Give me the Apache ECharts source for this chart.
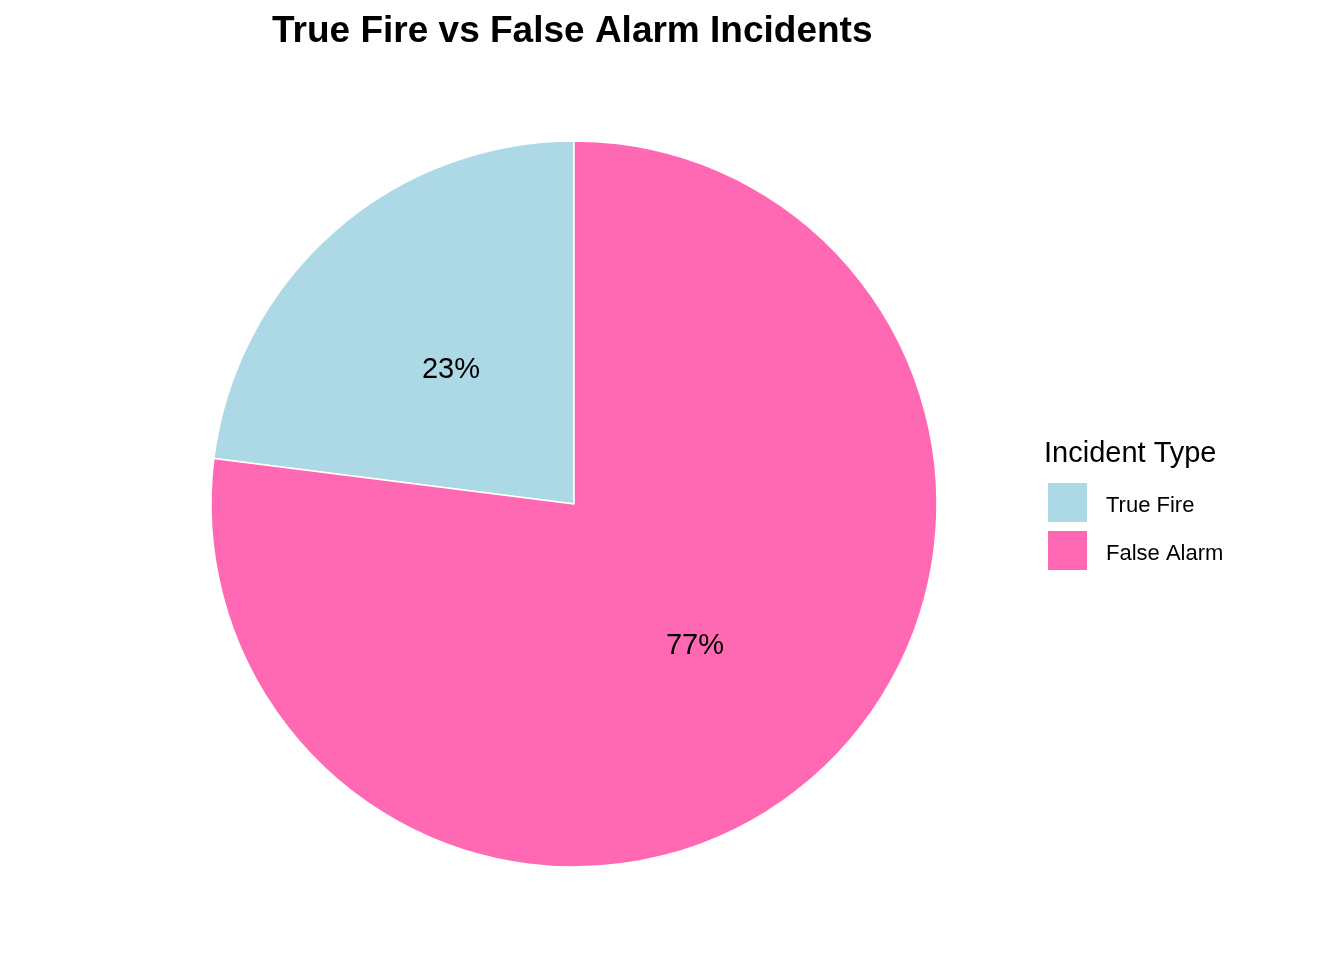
<!DOCTYPE html>
<html>
<head>
<meta charset="utf-8">
<title>True Fire vs False Alarm Incidents</title>
<script src="https://cdn.jsdelivr.net/npm/echarts@6/dist/echarts.min.js"></script>
<style>
	html, body { margin: 0; padding: 0; background: #ffffff; }
	#main { width: 1344px; height: 960px; }
</style>
</head>
<body>
<div id="main"></div>
<script>
// 数据
var incidentTypes = ['True Fire', 'False Alarm'];
var incidentShare = [23, 77];
var sliceColors = ['#ADD8E6', '#FF69B4'];

var pieData = [];
for (var i = 0; i < incidentTypes.length; i++) {
	pieData.push({ name: incidentTypes[i], value: incidentShare[i], itemStyle: { color: sliceColors[i] } });
}

var chartsDom = document.getElementById('main');
var myCharts = echarts.init(chartsDom);

var fontName = '"Liberation Sans", Arial, sans-serif';

var option = {
	animation: false,
	backgroundColor: '#ffffff',
	title: [{
		text: 'True Fire vs False Alarm Incidents',
		left: 272,
		top: 13,
		padding: 0,
		textStyle: { fontFamily: fontName, fontSize: 37, fontWeight: 'bold', color: '#000000' }
	}, {
		text: 'Incident Type',
		left: 1044,
		top: 439,
		padding: 0,
		textStyle: { fontFamily: fontName, fontSize: 29, fontWeight: 'normal', color: '#000000' }
	}],
	legend: {
		orient: 'vertical',
		left: 1046,
		top: 481,
		padding: 0,
		itemWidth: 41,
		itemHeight: 41,
		itemGap: 5,
		icon: 'rect',
		selectedMode: false,
		data: incidentTypes,
		formatter: '{t|{name}}',
		textStyle: {
			fontFamily: fontName, fontSize: 22, color: '#000000',
			rich: { t: { fontFamily: fontName, fontSize: 22, color: '#000000', padding: [6, 0, 0, 13] } }
		}
	},
	series: [{
		name: 'Incident Type',
		type: 'pie',
		center: [574, 504],
		radius: 363,
		startAngle: 90,
		clockwise: false,
		percentPrecision: 0,
		silent: true,
		itemStyle: { borderColor: '#ffffff', borderWidth: 1.5 },
		label: {
			show: true,
			position: 'inside',
			formatter: '{d}%',
			fontFamily: fontName,
			fontSize: 29,
			color: '#000000',
			offset: [-1, 4]
		},
		labelLine: { show: false },
		data: pieData
	}]
};
myCharts.setOption(option);
</script>
</body>
</html>
